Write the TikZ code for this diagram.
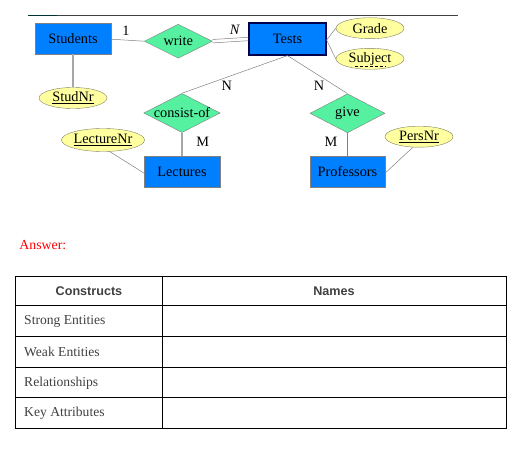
\documentclass[tikz,border=0pt]{standalone}
\usepackage{fontspec}
\setmainfont{Liberation Serif}
\setsansfont{Liberation Sans}
\usetikzlibrary{shapes.geometric}
\definecolor{entblue}{RGB}{0,128,255}
\definecolor{relgreen}{RGB}{85,240,160}
\definecolor{attyellow}{RGB}{255,255,160}
\definecolor{edgegray}{RGB}{128,128,128}
\definecolor{txtgray}{RGB}{64,64,64}
\definecolor{ansred}{RGB}{255,0,0}
\begin{document}
\begin{tikzpicture}[x=1pt,y=-1pt,
  dfont/.style={font=\fontsize{14.3}{16}\selectfont},
  entity/.style={dfont,rectangle,draw=edgegray,fill=entblue,minimum width=76pt,minimum height=31pt,inner sep=0pt},
  rel/.style={dfont,diamond,draw=edgegray,fill=relgreen,inner sep=0pt,aspect=1.95},
  attr/.style={dfont,ellipse,draw=edgegray!80!olive,fill=attyellow,minimum width=68pt,minimum height=21pt,inner sep=0pt},
  conn/.style={draw=edgegray,line width=0.5pt},
  thickconn/.style={draw=edgegray!70,line width=1.4pt},
  card/.style={dfont,inner sep=0pt},
  tline/.style={draw=black,line width=0.9pt},
  rowtxt/.style={font=\fontsize{13.6}{16}\selectfont,text=txtgray,anchor=west,inner sep=0pt},
  headtxt/.style={font=\sffamily\bfseries\fontsize{12.6}{15}\selectfont,text=txtgray,inner sep=0pt}
]
\useasboundingbox (0,0) rectangle (523,452);
% top rule
\coordinate (r0) at (28,15.7);
\coordinate (r1) at (57,15.7);
\coordinate (r2) at (458,15.7);
\draw[line width=1pt,draw=black!75] (r1) -- (r2);
\draw[line width=1pt,draw=teal!40!black] (r0) -- (r1);

% entities
\node[entity] (students) at (73,38.7) {Students};
\node[entity,draw=blue!30!black,line width=1.2pt,minimum width=77pt,minimum height=32pt] (tests) at (287.5,39) {Tests};
\node[entity] (lectures) at (182,171.5) {Lectures};
\node[entity,minimum width=75pt] (profs) at (347.5,171.5) {Professors};

% relationships
\node[rel,minimum width=68pt,minimum height=34pt,aspect=2] (write) at (178.3,41.2) {write};
\node[rel,minimum width=76pt,minimum height=39pt] (consist) at (182,113) {consist-of};
\node[rel,minimum width=75pt,minimum height=39pt] (give) at (347.5,113.3) {give};

% attributes
\node[attr] (grade) at (370,28.2) {Grade};
\node[attr] (subject) at (370,58.8) {Subject};
\draw[dashed,dash pattern=on 3pt off 2pt,line width=0.6pt] ([shift={(-15.5,7.4)}]subject.center) -- ([shift={(15.5,7.4)}]subject.center);
\node[attr] (studnr) at (73,98) {\underline{StudNr}};
\node[attr,minimum height=23pt] (lecnr) at (103,140) {\underline{LectureNr}};
\node[attr] (persnr) at (419,136.7) {\underline{PersNr}};

% connectors
\draw[conn] ([yshift=-0.5pt]students.east) -- (write.west);
\draw[conn] ([yshift=-1.7pt]write.east) -- ([yshift=-1.7pt]tests.west);
\draw[conn] ([yshift=1.7pt]write.east) -- ([yshift=1.7pt]tests.west);
\draw[thickconn] (students.south) -- (studnr.north);
\draw[conn] ([yshift=-1pt]tests.east) -- (grade.west);
\draw[conn] ([yshift=-1pt]tests.east) -- (subject.west);
\draw[conn] (tests.south) -- (consist.north);
\draw[conn] (tests.south) -- (give.north);
\draw[thickconn] (consist.south) -- (lectures.north);
\draw[conn] (give.south) -- (profs.north);
\draw[conn] (lecnr.-60) -- ([yshift=-1.5pt]lectures.west);
\draw[conn] (persnr.-120) -- ([yshift=-1.5pt]profs.east);

% cardinalities
\node[card] (c1) at (126,30.5) {1};
\node[card] (cN1) at (235,29.5) {\textit{N}};
\node[card] (cN2) at (226.7,86) {N};
\node[card] (cN3) at (319,86) {N};
\node[card] (cM1) at (202.7,142) {M};
\node[card] (cM2) at (331,142) {M};

% answer
\node[font=\fontsize{13.8}{16}\selectfont,text=ansred,anchor=west,inner sep=0pt] (answer) at (19.3,245.5) {Answer:};

% table
\coordinate (t00) at (15.7,276.7);
\coordinate (t11) at (506,428.3);
\draw[tline] (t00) rectangle (t11);
\coordinate (vm0) at (162.3,276.7);
\coordinate (vm1) at (162.3,428.3);
\draw[tline] (vm0) -- (vm1);
\foreach \yy in {305.3,336.3,367.3,397.3}{
  \draw[tline] (15.7,\yy) -- (506,\yy);
}
\node[headtxt] (hc) at (89,291.2) {Constructs};
\node[headtxt] (hn) at (334,291.2) {Names};
\node[rowtxt] (r1t) at (24,321.3) {Strong Entities};
\node[rowtxt] (r2t) at (24,352.3) {Weak Entities};
\node[rowtxt] (r3t) at (24,382.8) {Relationships};
\node[rowtxt] (r4t) at (24,413) {Key Attributes};
\end{tikzpicture}
\end{document}
